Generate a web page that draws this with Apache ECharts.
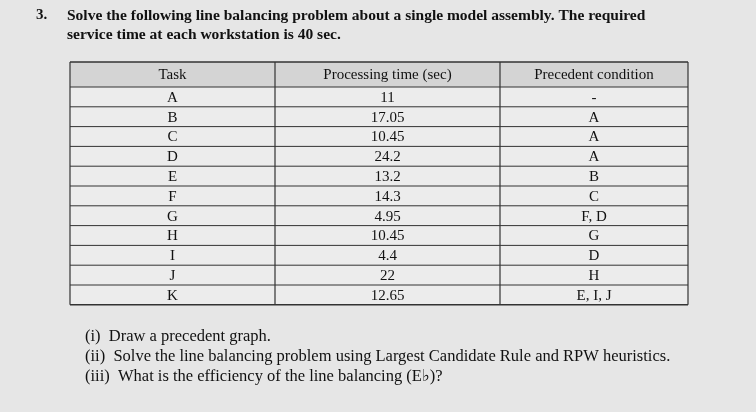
<!DOCTYPE html>
<html><head><meta charset="utf-8">
<script src="https://cdn.jsdelivr.net/npm/echarts@6/dist/echarts.min.js"></script>
<style>html,body{margin:0;padding:0;background:#e6e6e6}#main{width:756px;height:412px}</style>
</head><body><div id="main"></div>
<script>
// 表格数据
var tasks = ['A','B','C','D','E','F','G','H','I','J','K'];
var times = ['11','17.05','10.45','24.2','13.2','14.3','4.95','10.45','4.4','22','12.65'];
var precedents = ['-','A','A','A','B','C','F, D','G','D','H','E, I, J'];
var headers = ['Task','Processing time (sec)','Precedent condition'];
var questions = [
  '(i)  Draw a precedent graph.',
  '(ii)  Solve the line balancing problem using Largest Candidate Rule and RPW heuristics.',
  '(iii)  What is the efficiency of the line balancing (E\u266d)?'
];

var chart = echarts.init(document.getElementById('main'));
var font = '"Liberation Serif", "DejaVu Serif", serif';
var colX = [70, 275, 500, 688];
var top0 = 62, headH = 25, rowH = 19.8;
var g = [];

// 标题
g.push({type:'text', left:36, top:8, style:{text:'3.', font:'bold 15px ' + font, fill:'#111'}});
g.push({type:'text', left:67, top:8, style:{text:'Solve the following line balancing problem about a single model assembly. The required', font:'bold 15.5px ' + font, fill:'#111'}});
g.push({type:'text', left:67, top:27, style:{text:'service time at each workstation is 40 sec.', font:'bold 15.5px ' + font, fill:'#111'}});

var bottom = top0 + headH + rowH * tasks.length;
// 表头背景
g.push({type:'rect', shape:{x:colX[0], y:top0, width:colX[3]-colX[0], height:headH}, style:{fill:'#d4d4d4'}});
g.push({type:'rect', shape:{x:colX[0], y:top0+headH, width:colX[3]-colX[0], height:bottom-top0-headH}, style:{fill:'#ececec'}});
// 竖线
colX.forEach(function(x){
  g.push({type:'line', shape:{x1:x, y1:top0, x2:x, y2:bottom}, style:{stroke:'#333', lineWidth:1.2}});
});
// 横线
for (var i = 0; i <= tasks.length + 1; i++) {
  var y = i === 0 ? top0 : top0 + headH + rowH * (i - 1);
  g.push({type:'line', shape:{x1:colX[0], y1:y, x2:colX[3], y2:y}, style:{stroke:'#333', lineWidth: (i===0||i===tasks.length+1)?1.6:1}});
}
headers.forEach(function(h, c){
  g.push({type:'text', x:(colX[c]+colX[c+1])/2, y:top0+headH/2+1, style:{text:h, font:'15px ' + font, fill:'#111', align:'center', verticalAlign:'middle'}});
});
tasks.forEach(function(t, r){
  var y = top0 + headH + rowH * r + rowH/2 + 1;
  [t, times[r], precedents[r]].forEach(function(v, c){
    g.push({type:'text', x:(colX[c]+colX[c+1])/2, y:y, style:{text:v, font:'15px ' + font, fill:'#111', align:'center', verticalAlign:'middle'}});
  });
});

// 问题
questions.forEach(function(q, i){
  g.push({type:'text', left:85, top:328 + i*20, style:{text:q, font:'16.5px ' + font, fill:'#111'}});
});

chart.setOption({backgroundColor:'#e6e6e6', graphic:g});
</script>
</body></html>
